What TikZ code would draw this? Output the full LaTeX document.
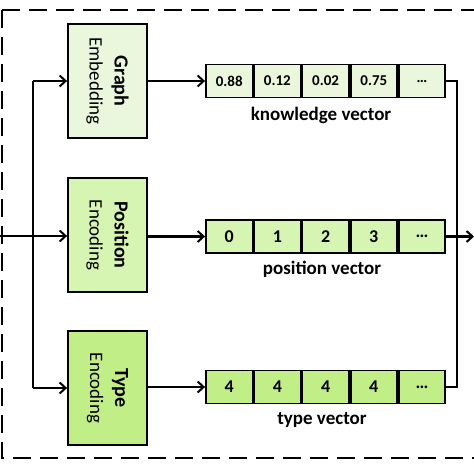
\documentclass[tikz,border=0pt]{standalone}
\usepackage{fontspec}
\setmainfont{Carlito}
\usetikzlibrary{arrows.meta}
\definecolor{lightg}{HTML}{EBF7DC}
\definecolor{midg}{HTML}{D7F5B2}
\definecolor{strongg}{HTML}{C2EE88}
\newcommand{\btA}[1]{{\fontsize{20}{24}\selectfont\bfseries #1}}
\newcommand{\btB}[1]{{\fontsize{19}{24}\selectfont #1}}
\tikzset{
  encbox/.style={draw=black, line width=1.8pt, minimum width=79pt, minimum height=114pt, inner sep=0pt, anchor=center},
  cell/.style={draw=black, line width=1.8pt, minimum width=46.4pt, minimum height=33pt, inner sep=0pt, font=\bfseries\fontsize{18}{20}\selectfont},
  smallcell/.style={cell, font=\bfseries\fontsize{15}{18}\selectfont},
  conn/.style={line width=2.2pt},
  arr/.style={line width=2.2pt, -{Straight Barb[length=6pt,width=11pt,line width=2pt]}},
  lbl/.style={font=\bfseries\fontsize{19}{22}\selectfont},
  boxtext/.style={rotate=-90, align=center, font=\fontsize{19}{25}\selectfont, inner sep=0pt},
}
\begin{document}
\begin{tikzpicture}[x=1pt,y=-1pt]
\useasboundingbox (0,0) rectangle (474,474);
\begin{scope}
\clip (0,0) rectangle (474,474);
\draw[line width=2.5pt, dash pattern=on 18pt off 9pt] (2,10) -- (490,10) (2,10) -- (2,458) -- (490,458);
\end{scope}
% encoder boxes
\node[encbox, fill=lightg] (ge) at (107.5,81) {};
\node[boxtext] (get) at (ge.center) {\btA{Graph}\\\btB{Embedding}};
\node[encbox, fill=midg] (pe) at (107.5,235) {};
\node[boxtext] (pet) at (pe.center) {\btA{Position}\\\btB{Encoding}};
\node[encbox, fill=strongg] (te) at (107.5,388) {};
\node[boxtext] (tet) at (te.center) {\btA{Type}\\\btB{Encoding}};
% vectors
\foreach \r/\y/\c/\s/\a/\b/\cc/\d/\e in {k/81/lightg/smallcell/0.88/0.12/0.02/0.75/{\dots}, p/236.5/midg/cell/0/1/2/3/{\dots}, t/387/strongg/cell/4/4/4/4/{\dots}}{
  \node[\s, fill=\c] (\r1) at (229.2,\y) {\a};
  \node[\s, fill=\c, anchor=west] (\r2) at (\r1.east) {\b};
  \node[\s, fill=\c, anchor=west] (\r3) at (\r2.east) {\cc};
  \node[\s, fill=\c, anchor=west] (\r4) at (\r3.east) {\d};
  \node[\s, fill=\c, anchor=west] (\r5) at (\r4.east) {\e};
}
\node[lbl] (kl) at (321,115) {knowledge vector};
\node[lbl] (pl) at (322,269) {position vector};
\node[lbl] (tl) at (322,420) {type vector};
% left connectors
\coordinate (in) at (0,236);
\coordinate (lt) at (33,81);
\coordinate (lb) at (33,388);
\draw[conn] (lt) -- (lb);
\draw[arr] (in) -- (pe.west |- in);
\draw[arr] (lt) -- (ge.west |- lt);
\draw[arr] (lb) -- (te.west |- lb);
% box to vector
\draw[arr] (ge.east |- k1) -- (k1.west);
\draw[arr] (pe.east |- p1) -- (p1.west);
\draw[arr] (te.east |- t1) -- (t1.west);
% right connectors
\coordinate (rt) at (457,81);
\coordinate (rb) at (457,387);
\coordinate (out) at (474,236.5);
\draw[conn] (k5.east) -- (rt) -- (rb) -- (t5.east);
\draw[arr] (p5.east) -- (out);
\end{tikzpicture}
\end{document}
